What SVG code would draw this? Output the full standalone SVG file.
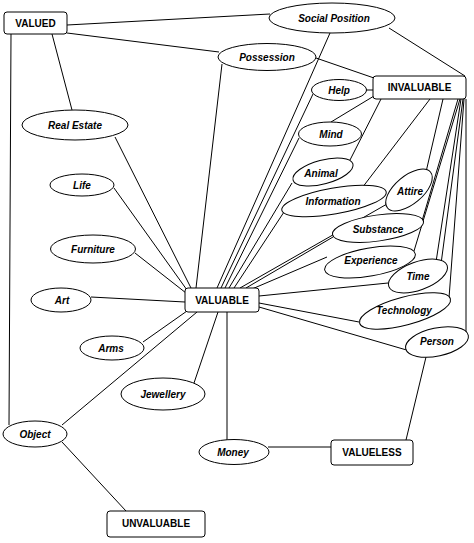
<svg xmlns="http://www.w3.org/2000/svg" width="474" height="543" viewBox="0 0 474 543">
<style>
.bg{fill:#fff}
.c line{stroke:#000;stroke-width:1;fill:none}
.box rect{fill:#fff;stroke:#000;stroke-width:1}
.el ellipse{fill:#fff;stroke:#000;stroke-width:1}
.bt{font-family:"Liberation Sans",Arial,sans-serif;font-size:10px;font-weight:bold;text-anchor:middle;fill:#000}
.et{font-family:"Liberation Sans",Arial,sans-serif;font-size:10px;font-weight:bold;font-style:italic;text-anchor:middle;fill:#000}
</style>
<rect class="bg" x="0" y="0" width="474" height="543"/>
<g id="connectors" class="c">
<line x1="67" y1="25" x2="270" y2="14"/>
<line x1="67" y1="33" x2="219" y2="52"/>
<line x1="52" y1="34" x2="72" y2="110"/>
<line x1="11" y1="34" x2="9" y2="425"/>
<line x1="115" y1="137" x2="191" y2="288"/>
<line x1="114" y1="188" x2="187" y2="290"/>
<line x1="135" y1="253" x2="186" y2="293"/>
<line x1="91" y1="297" x2="185" y2="302"/>
<line x1="143" y1="342" x2="187" y2="311"/>
<line x1="62" y1="425" x2="197" y2="312"/>
<line x1="194" y1="383" x2="218" y2="312"/>
<line x1="227" y1="312" x2="227" y2="440"/>
<line x1="268" y1="447" x2="331" y2="447"/>
<line x1="406" y1="440" x2="426" y2="357"/>
<line x1="62" y1="442" x2="126" y2="511"/>
<line x1="389" y1="28" x2="465" y2="76"/>
<line x1="316" y1="58" x2="374" y2="78"/>
<line x1="366" y1="90" x2="373" y2="90"/>
<line x1="222" y1="64" x2="196" y2="288"/>
<line x1="330" y1="33" x2="217" y2="288"/>
<line x1="313" y1="94" x2="221" y2="288"/>
<line x1="299" y1="138" x2="225" y2="288"/>
<line x1="292" y1="183" x2="229" y2="288"/>
<line x1="284" y1="212" x2="234" y2="288"/>
<line x1="387" y1="204" x2="240" y2="288"/>
<line x1="333" y1="237" x2="246" y2="288"/>
<line x1="327" y1="257" x2="252" y2="289"/>
<line x1="388" y1="283" x2="259" y2="296"/>
<line x1="359" y1="322" x2="259" y2="303"/>
<line x1="410" y1="351" x2="259" y2="307"/>
<line x1="374" y1="96" x2="331" y2="122"/>
<line x1="381" y1="99" x2="350" y2="160"/>
<line x1="430" y1="99" x2="362" y2="188"/>
<line x1="443" y1="99" x2="426" y2="172"/>
<line x1="458" y1="99" x2="422" y2="221"/>
<line x1="460" y1="99" x2="414" y2="251"/>
<line x1="461" y1="99" x2="436" y2="262"/>
<line x1="463" y1="99" x2="441" y2="264"/>
<line x1="464" y1="99" x2="449" y2="298"/>
<line x1="466" y1="99" x2="466" y2="334"/>
</g>
<g id="VALUED" class="box"><rect x="4" y="12" width="63" height="22" rx="3"/><text class="bt" x="35.5" y="27">VALUED</text></g>
<g id="INVALUABLE" class="box"><rect x="373" y="76" width="93" height="23" rx="3"/><text class="bt" x="419.5" y="91">INVALUABLE</text></g>
<g id="VALUABLE" class="box"><rect x="185" y="288" width="74" height="24" rx="3"/><text class="bt" x="222" y="304">VALUABLE</text></g>
<g id="VALUELESS" class="box"><rect x="331" y="440" width="82" height="25" rx="3"/><text class="bt" x="372" y="456">VALUELESS</text></g>
<g id="UNVALUABLE" class="box"><rect x="107" y="511" width="98" height="26" rx="3"/><text class="bt" x="156" y="527">UNVALUABLE</text></g>
<g id="SocialPosition" class="el"><ellipse cx="332" cy="18" rx="63" ry="15"/><text class="et" x="334" y="22">Social Position</text></g>
<g id="Possession" class="el"><ellipse cx="267" cy="57" rx="49" ry="13.5"/><text class="et" x="267" y="61">Possession</text></g>
<g id="Help" class="el"><ellipse cx="339" cy="90" rx="27.5" ry="10.5"/><text class="et" x="339" y="94">Help</text></g>
<g id="Mind" class="el"><ellipse cx="330" cy="134" rx="31.5" ry="12"/><text class="et" x="331" y="138">Mind</text></g>
<g id="Animal" class="el"><ellipse cx="323" cy="172" rx="31" ry="12" transform="rotate(-15 323 172)"/><text class="et" x="321" y="177">Animal</text></g>
<g id="Information" class="el"><ellipse cx="334" cy="201" rx="53" ry="13" transform="rotate(-10 334 201)"/><text class="et" x="333" y="205">Information</text></g>
<g id="Attire" class="el"><ellipse cx="409" cy="190" rx="28" ry="14" transform="rotate(-40 409 190)"/><text class="et" x="410" y="195">Attire</text></g>
<g id="Substance" class="el"><ellipse cx="378" cy="228" rx="46" ry="13" transform="rotate(-8 378 228)"/><text class="et" x="378" y="233">Substance</text></g>
<g id="Experience" class="el"><ellipse cx="370" cy="262" rx="46" ry="14" transform="rotate(-10 370 262)"/><text class="et" x="371" y="264">Experience</text></g>
<g id="Time" class="el"><ellipse cx="418" cy="276" rx="31" ry="14" transform="rotate(-20 418 276)"/><text class="et" x="418" y="280">Time</text></g>
<g id="Technology" class="el"><ellipse cx="405" cy="311" rx="47" ry="14" transform="rotate(-15 405 311)"/><text class="et" x="404" y="314">Technology</text></g>
<g id="Person" class="el"><ellipse cx="437" cy="342" rx="32" ry="14" transform="rotate(-12 437 342)"/><text class="et" x="437" y="345">Person</text></g>
<g id="RealEstate" class="el"><ellipse cx="75" cy="125" rx="53" ry="15"/><text class="et" x="75" y="129">Real Estate</text></g>
<g id="Life" class="el"><ellipse cx="82" cy="185" rx="32" ry="11"/><text class="et" x="82" y="189">Life</text></g>
<g id="Furniture" class="el"><ellipse cx="93" cy="249" rx="42.5" ry="14"/><text class="et" x="93" y="253">Furniture</text></g>
<g id="Art" class="el"><ellipse cx="61" cy="300" rx="30" ry="12"/><text class="et" x="62" y="304">Art</text></g>
<g id="Arms" class="el"><ellipse cx="112" cy="348" rx="32" ry="12"/><text class="et" x="111" y="352">Arms</text></g>
<g id="Jewellery" class="el"><ellipse cx="163" cy="394" rx="42" ry="16"/><text class="et" x="163" y="398">Jewellery</text></g>
<g id="Object" class="el"><ellipse cx="35" cy="434" rx="32" ry="13"/><text class="et" x="35" y="438">Object</text></g>
<g id="Money" class="el"><ellipse cx="234" cy="452" rx="35" ry="12.5"/><text class="et" x="233" y="456">Money</text></g>
</svg>
